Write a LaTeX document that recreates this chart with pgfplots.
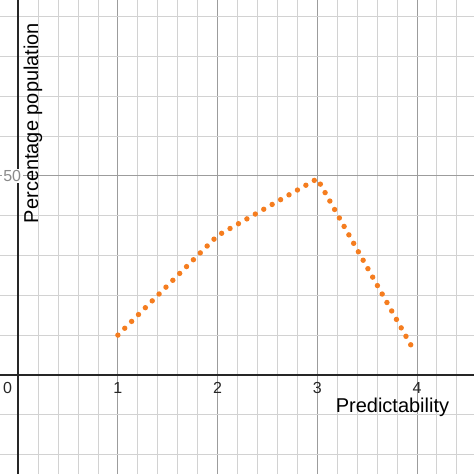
\documentclass[border=0pt]{standalone}
\usepackage{fontspec}
\setmainfont{Liberation Sans}
\usepackage{pgfplots}
\pgfplotsset{compat=1.18}

\definecolor{dorange}{HTML}{F57D1F}
\definecolor{axisgray}{HTML}{262626}
\definecolor{majorgrid}{HTML}{9C9C9C}
\definecolor{minorgrid}{HTML}{D2D2D2}
\definecolor{labelgray}{HTML}{8A8A8A}

\begin{document}
\begin{tikzpicture}
\begin{axis}[
    scale only axis,
    width=474bp, height=474bp,
    xmin=-0.1825, xmax=4.572,
    ymin=-24.9, ymax=94.2,
    axis lines=middle,
    axis line style={-, draw=axisgray, line width=1.7bp},
    xtick={1,2,3,4},
    ytick={50},
    minor xtick={-0.2,0.2,0.4,0.6,0.8,1.2,1.4,1.6,1.8,2.2,2.4,2.6,2.8,3.2,3.4,3.6,3.8,4.2,4.4},
    minor ytick={-20,-10,10,20,30,40,60,70,80,90},
    grid=both,
    major grid style={draw=majorgrid, line width=0.9bp},
    minor grid style={draw=minorgrid, line width=0.9bp},
    major tick length=0pt,
    minor tick length=0pt,
    /pgf/number format/assume math mode=true,
    ticklabel style={font=\fontsize{16bp}{19bp}\selectfont},
    xticklabel style={anchor=north, inner sep=0pt, yshift=-7bp, text=axisgray},
    yticklabel style={anchor=center, inner sep=1.5bp, fill=white, text=labelgray, xshift=-6bp},
    clip=true,
]
\addplot[color=dorange, line width=5.4bp, dash pattern=on 0bp off 9.7bp,
    line cap=round, line join=round]
coordinates {
    (1,10)
    (2,35)
    (3,49.3)
    (3.95,7)
};
\node[anchor=north east, inner sep=0pt, xshift=-6bp, yshift=-7bp,
    text=axisgray, font=\fontsize{16bp}{19bp}\selectfont] at (axis cs:0,0) {0};
\node[anchor=center, inner sep=0pt, text=black,
    font=\fontsize{20bp}{24bp}\selectfont] at (axis cs:3.754,-8.16) {Predictability};
\node[anchor=center, inner sep=0pt, rotate=90, text=black,
    font=\fontsize{20bp}{24bp}\selectfont] at (axis cs:0.147,63.3) {Percentage population};
\coordinate (sw) at (rel axis cs:0,0);
\coordinate (ne) at (rel axis cs:1,1);
\end{axis}
\pgfresetboundingbox
\path (sw) rectangle (ne);
\end{tikzpicture}
\end{document}
